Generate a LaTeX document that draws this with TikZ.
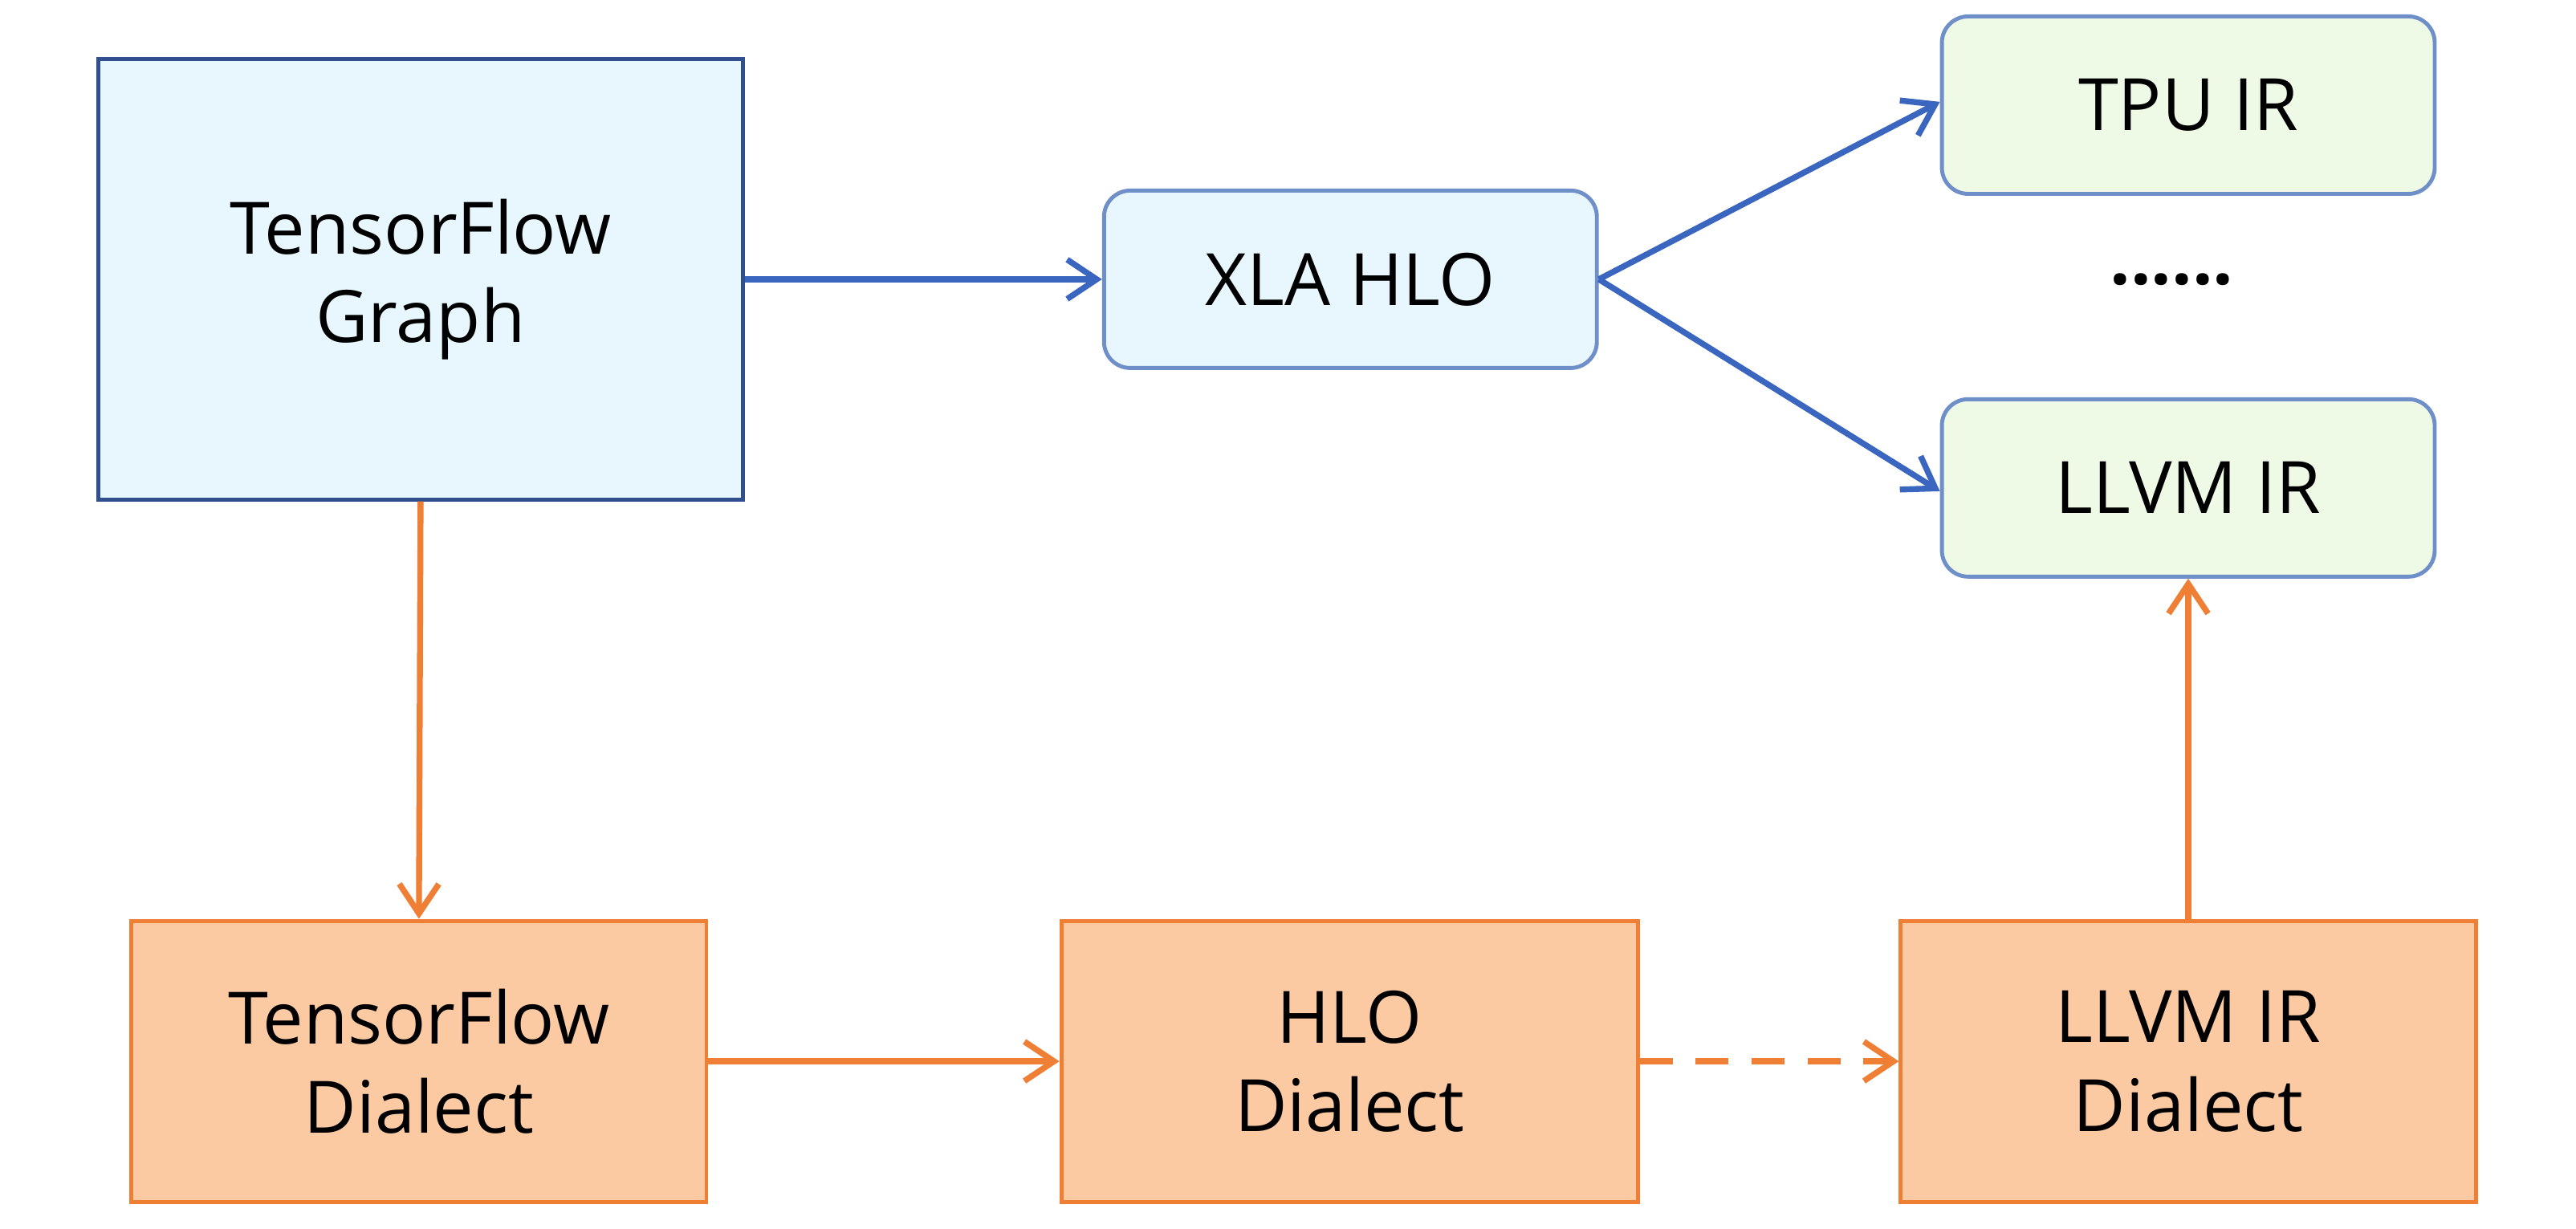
\documentclass[tikz,border=0pt]{standalone}
\usepackage{fontspec}
\setmainfont{Open Sans}
\usetikzlibrary{arrows.meta}
\definecolor{bfill}{HTML}{E8F7FD}
\definecolor{bdark}{HTML}{2F4F8F}
\definecolor{bline}{HTML}{6F8FC8}
\definecolor{gfill}{HTML}{EEF9E6}
\definecolor{ofill}{HTML}{FBC9A2}
\definecolor{oline}{HTML}{EE7F35}
\definecolor{barrow}{HTML}{3A66C0}
\tikzset{
  x=0.5pt,y=-0.5pt,
  lbl/.style={font=\fontsize{22}{27}\selectfont,align=center,text=black},
  box/.style={draw,line width=1.2pt,inner sep=0pt},
  barr/.style={draw=barrow,line width=1.8pt,-{Straight Barb[length=9pt,width=12pt,line width=1.8pt]}},
  oarr/.style={draw=oline,line width=1.8pt,-{Straight Barb[length=9pt,width=12pt,line width=1.8pt]}},
}
\begin{document}
\begin{tikzpicture}
\useasboundingbox[fill=white] (0,0) rectangle (1568,748);
\node[box,draw=bdark,fill=bfill,minimum width=196pt,minimum height=134pt,lbl] (tfg) at (256,170) {TensorFlow\\Graph};
\node[box,draw=bline,fill=bfill,rounded corners=8pt,minimum width=150pt,minimum height=54pt,lbl] (xla) at (822,170) {XLA HLO};
\node[box,draw=bline,fill=gfill,rounded corners=8pt,minimum width=150pt,minimum height=54pt,lbl] (tpu) at (1332,64) {TPU IR};
\node[lbl] (dots) at (1322,170) {\textbf{......}};
\node[box,draw=bline,fill=gfill,rounded corners=8pt,minimum width=150pt,minimum height=54pt,lbl] (llvm) at (1332,297) {LLVM IR};
\node[box,draw=oline,fill=ofill,minimum width=175pt,minimum height=85.5pt,lbl] (tfd) at (255,646) {TensorFlow\\Dialect};
\node[box,draw=oline,fill=ofill,minimum width=175.5pt,minimum height=85.5pt,lbl] (hlod) at (821.5,646) {HLO\\Dialect};
\node[box,draw=oline,fill=ofill,minimum width=175pt,minimum height=85.5pt,lbl] (llvmd) at (1332,646) {LLVM IR\\Dialect};
\draw[barr] (tfg.east) -- (xla.west);
\draw[barr] (xla.east) -- ([yshift=1pt]tpu.west);
\draw[barr] (xla.east) -- ([yshift=-1pt]llvm.west);
\draw[oarr] (tfg.south) -- (tfd.north);
\draw[oarr] (tfd.east) -- (hlod.west);
\draw[oarr,dash pattern=on 10pt off 7pt] (hlod.east) -- (llvmd.west);
\draw[oarr] (llvmd.north) -- (llvm.south);
\end{tikzpicture}
\end{document}
